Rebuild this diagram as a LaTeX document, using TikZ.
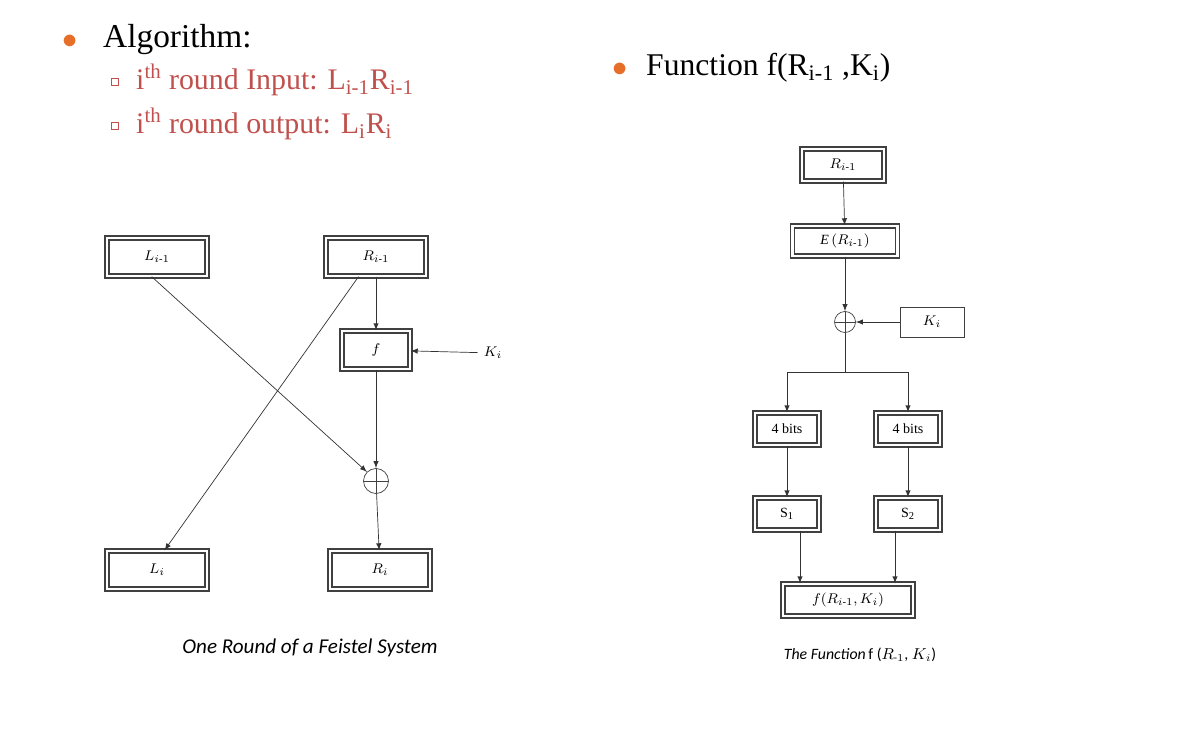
\documentclass[tikz,border=0pt]{standalone}
\usepackage{amsmath}
\usepackage{fontspec}
\setmainfont{Liberation Serif}
\newfontfamily\capfont{Carlito}
\usetikzlibrary{arrows}

\definecolor{bulorange}{RGB}{230,110,40}
\definecolor{subred}{RGB}{192,80,77}

\begin{document}
\begin{tikzpicture}
	[x=0.02cm, y=-0.02cm,
	box/.style ={rectangle, draw=black!75, double, double distance=1.4pt, thick, align=center, font=\footnotesize\itshape, inner sep=0pt},
	key/.style ={rectangle, draw=black!75, align=center, font=\footnotesize\itshape, inner sep=0pt},
	xor/.style ={circle, draw=black!75, minimum size=#1, inner sep=0pt, path picture={\draw[black!75] (path picture bounding box.north) -- (path picture bounding box.south) (path picture bounding box.west) -- (path picture bounding box.east);}},
	line/.style ={draw, black!80, -latex},
	bul/.style ={text=bulorange, font=\fontsize{18}{20}\selectfont},
	sq/.style ={rectangle, draw=subred, minimum size=4pt, inner sep=0pt},
	sub/.style ={text=subred, font=\fontsize{17}{20}\selectfont, anchor=west},
	capt/.style ={font=\capfont\itshape\large}]
	\useasboundingbox (0,0) rectangle (1177,733);
	% slide text
	\draw (70, 42) node[bul] (b1) {$\bullet$};
	\draw (97, 40) node[anchor=west, font=\fontsize{19}{22}\selectfont] (alg) {Algorithm:};
	\draw (115, 82) node[sq] (s1) {};
	\draw (130, 80) node[sub] (in) {i\textsuperscript{th} round Input: L\textsubscript{i-1}R\textsubscript{i-1}};
	\draw (115, 126) node[sq] (s2) {};
	\draw (130, 124) node[sub] (out) {i\textsuperscript{th} round output: L\textsubscript{i}R\textsubscript{i}};
	\draw (620, 70) node[bul] (b2) {$\bullet$};
	\draw (640, 68) node[anchor=west, font=\fontsize{18}{22}\selectfont] (fn) {Function f(R\textsubscript{i-1} ,K\textsubscript{i})};
	% one round
	\draw (157, 257) node[box, minimum width=2cm, minimum height=0.76cm] (li1) {$L_{i\text{-}1}$};
	\draw (376, 257) node[box, minimum width=2cm, minimum height=0.76cm] (ri1) {$R_{i\text{-}1}$};
	\draw (376, 350) node[box, minimum width=1.36cm, minimum height=0.76cm] (f) {$f$};
	\draw (493, 353) node[font=\footnotesize\itshape] (ki) {$K_i$};
	\draw (376, 481) node[xor=0.5cm] (xr) {};
	\draw (157, 570) node[box, minimum width=2cm, minimum height=0.76cm] (li) {$L_i$};
	\draw (380, 570) node[box, minimum width=2cm, minimum height=0.76cm] (ri) {$R_i$};
	\draw (310, 648) node[capt] (c1) {One Round of a Feistel System};
	\draw[line] (ri1) -- (f);
	\draw[line] (ki) -- (f);
	\draw[line] (f) -- (xr);
	\draw[line] (xr) -- (ri);
	\draw[line] ([xshift=-3pt]li1.south) -- (xr.north west);
	\draw[line] ([xshift=-0.35cm]ri1.south) -- ([xshift=0.15cm]li.north);
	% function f
	\draw (843, 165) node[box, minimum width=1.64cm, minimum height=0.64cm] (r) {$R_{i\text{-}1}$};
	\draw (845, 241) node[box, minimum width=2.1cm, minimum height=0.6cm] (e) {E$\,(R_{i\text{-}1})$};
	\draw (845, 322) node[xor=0.42cm] (x2) {};
	\draw (932, 322) node[key, minimum width=1.28cm, minimum height=0.6cm] (k) {$K_i$};
	\draw (845, 372) coordinate (split);
	\draw (787, 429) node[box, font=\footnotesize, minimum width=1.28cm, minimum height=0.64cm] (b4a) {4 bits};
	\draw (908, 429) node[box, font=\footnotesize, minimum width=1.28cm, minimum height=0.64cm] (b4b) {4 bits};
	\draw (787, 514) node[box, font=\footnotesize, minimum width=1.28cm, minimum height=0.64cm] (sa) {S\textsubscript{1}};
	\draw (908, 514) node[box, font=\footnotesize, minimum width=1.28cm, minimum height=0.64cm] (sb) {S\textsubscript{2}};
	\draw (848, 600) node[box, minimum width=2.6cm, minimum height=0.64cm] (fo) {$f(R_{i\text{-}1}, K_i)$};
	\draw (860, 655) node[capt, font=\capfont\itshape\small] (c2) {The Function\,\upshape f ($R_{\text{-}1}$, $K_i$)};
	\draw[line] (r) -- (e);
	\draw[line] (e) -- (x2);
	\draw[line] (k) -- (x2);
	\draw[black!80] (x2) -- (split);
	\draw[line] (split) -| (b4a);
	\draw[line] (split) -| (b4b);
	\draw[line] (b4a) -- (sa);
	\draw[line] (b4b) -- (sb);
	\draw[line] ([xshift=0.26cm]sa.south) -- ([xshift=0.26cm]sa.south |- fo.north);
	\draw[line] ([xshift=-0.26cm]sb.south) -- ([xshift=-0.26cm]sb.south |- fo.north);
\end{tikzpicture}
\end{document}
